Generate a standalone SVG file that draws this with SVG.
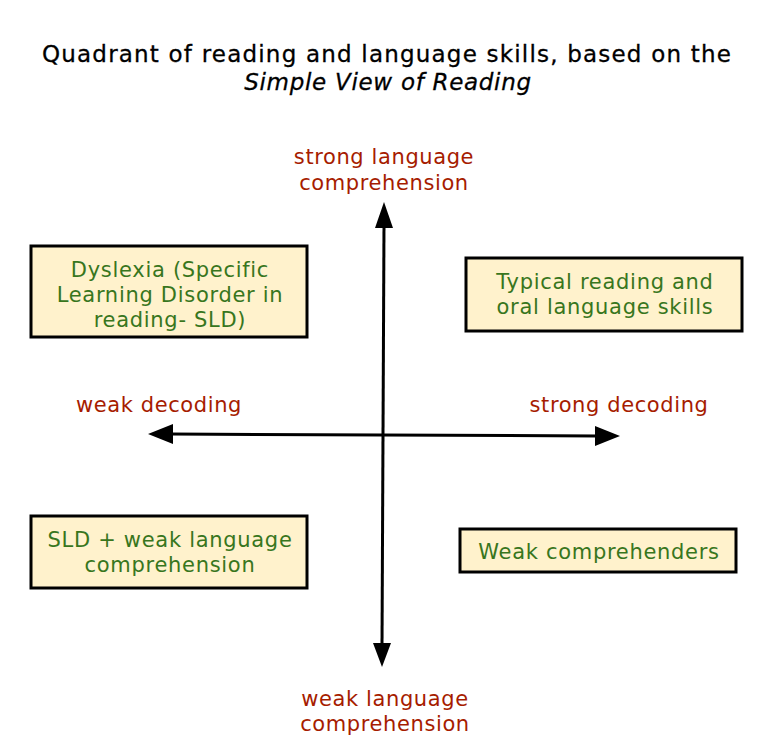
<svg xmlns="http://www.w3.org/2000/svg" width="772" height="754" viewBox="0 0 772 754">
<defs>
<style>
text{font-family:"DejaVu Sans","Noto Sans",sans-serif;text-anchor:middle}
.title{font-size:23px;fill:#000000;letter-spacing:1.2px;stroke:#000000;stroke-width:0.3px}
.ital{font-style:italic;letter-spacing:0.7px}
.axis{font-size:21px;fill:#a61c00;letter-spacing:0.6px}
.lbl{font-size:21px;fill:#38761d;letter-spacing:0.7px}
.box{fill:#fff2cc;stroke:#000000;stroke-width:3}
.ax{stroke:#000000;stroke-width:3;fill:none}
</style>
</defs>
<rect width="772" height="754" fill="#ffffff"/>
<g id="title">
<text class="title" x="387" y="62">Quadrant of reading and language skills, based on the</text>
<text class="title ital" x="388" y="90">Simple View of Reading</text>
</g>
<g id="connectors">
<line class="ax" x1="170" y1="434" x2="598" y2="436"/>
<polygon points="148,434 173,424 173,444"/>
<polygon points="620,436 595,426 595,446"/>
<line class="ax" x1="384" y1="225" x2="382" y2="646"/>
<polygon points="384,202 375,228 393,228"/>
<polygon points="382,667 373,643 391,643"/>
</g>
<g id="axis-labels">
<text class="axis" x="384" y="164">strong language</text>
<text class="axis" x="384" y="190">comprehension</text>
<text class="axis" x="159" y="412">weak decoding</text>
<text class="axis" x="619" y="412">strong decoding</text>
<text class="axis" x="385" y="706">weak language</text>
<text class="axis" x="385" y="731">comprehension</text>
</g>
<g id="dyslexia">
<rect class="box" x="31" y="246" width="276" height="91"/>
<text class="lbl" x="170" y="277">Dyslexia (Specific</text>
<text class="lbl" x="170" y="302">Learning Disorder in</text>
<text class="lbl" x="170" y="327">reading- SLD)</text>
</g>
<g id="typical">
<rect class="box" x="466" y="258" width="276" height="73"/>
<text class="lbl" x="605" y="289">Typical reading and</text>
<text class="lbl" x="605" y="314">oral language skills</text>
</g>
<g id="sld-weak">
<rect class="box" x="31" y="516" width="276" height="72"/>
<text class="lbl" x="170" y="547">SLD + weak language</text>
<text class="lbl" x="170" y="572">comprehension</text>
</g>
<g id="weak-comprehenders">
<rect class="box" x="460" y="529" width="276" height="43"/>
<text class="lbl" x="599" y="559">Weak comprehenders</text>
</g>
</svg>
